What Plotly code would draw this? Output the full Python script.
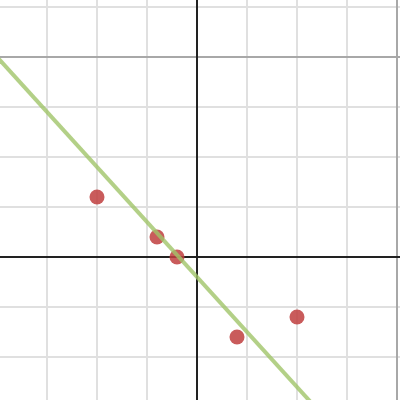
import plotly.graph_objects as go

# data points
pts_x = [-1.0, -0.4, -0.2, 0.4, 1.0]
pts_y = [0.6, 0.2, 0.0, -0.8, -0.6]

# fitted line endpoints (y = -1.1x - 0.2), extended past the view
line_x = [-2.2, 1.4]
line_y = [2.22, -1.74]

x_range = [-1.97, 2.03]
y_range = [-1.43, 2.57]

fig = go.Figure()
fig.add_trace(go.Scatter(x=pts_x, y=pts_y, mode='markers',
                         marker=dict(size=15, color='rgba(192,62,62,0.85)', line=dict(width=0))))
fig.add_trace(go.Scatter(x=line_x, y=line_y, mode='lines',
                         line=dict(color='rgba(160,196,105,0.8)', width=4)))

axis_style = dict(
    dtick=2, tick0=0,
    showgrid=True, gridcolor='#a8a8a8', gridwidth=1.5,
    minor=dict(dtick=0.5, showgrid=True, gridcolor='#e0e0e0', gridwidth=1.5),
    zeroline=True, zerolinecolor='#222222', zerolinewidth=2,
    showticklabels=False, ticks='', showline=False, fixedrange=True,
)
fig.update_xaxes(range=x_range, **axis_style)
fig.update_yaxes(range=y_range, **axis_style)
fig.update_layout(width=400, height=400, margin=dict(l=0, r=0, t=0, b=0),
                  plot_bgcolor='white', paper_bgcolor='white', showlegend=False)
# drop the page's default body margin so the plot fills the window
fig.write_html("out.html", config={'displayModeBar': False},
               post_script="document.body.style.margin='0';document.body.style.overflow='hidden';")
